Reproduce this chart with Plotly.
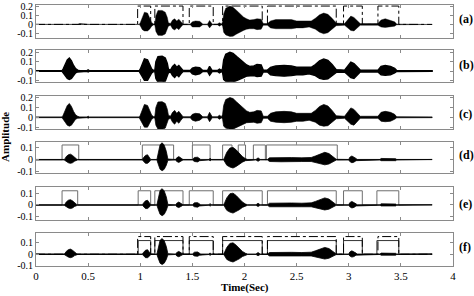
import plotly.graph_objects as go

# ---------------- data ----------------
# time grid (s) for noisy waveform envelopes, panels (a)-(c)
t_noisy = [0.00, 0.25, 0.26, 0.28, 0.30, 0.32, 0.34, 0.36, 0.38, 0.40, 0.42,
           0.49, 0.50, 0.51, 0.60, 0.61, 0.62,
           0.99, 1.00, 1.02, 1.04, 1.07, 1.09, 1.11, 1.13,
           1.14, 1.15, 1.17, 1.21, 1.24, 1.26, 1.27,
           1.29, 1.31, 1.33, 1.35, 1.37, 1.39, 1.41,
           1.48, 1.50, 1.53, 1.57, 1.60,
           1.645, 1.665, 1.69, 1.74, 1.76, 1.78,
           1.79, 1.80, 1.82, 1.86, 1.89, 1.925, 1.96, 1.99, 2.02, 2.05, 2.09, 2.12, 2.16, 2.18,
           2.22, 2.25, 2.30, 2.38, 2.45, 2.50, 2.56, 2.62,
           2.64, 2.68, 2.72, 2.76, 2.80, 2.84, 2.88,
           2.96, 2.99, 3.02, 3.05, 3.08, 3.11,
           3.28, 3.31, 3.35, 3.40, 3.44, 3.46, 3.80]
up_a = [0.001, 0.001, 0.001, 0.001, 0.001, 0.001, 0.001, 0.001, 0.001, 0.001, 0.010,
        0.001, 0.001, 0.001, 0.001, 0.001, 0.001,
        0.001, 0.020, 0.080, 0.140, 0.130, 0.070, 0.020, 0.004,
        0.010, 0.100, 0.160, 0.160, 0.140, 0.080, 0.020,
        0.010, 0.050, 0.065, 0.040, 0.060, 0.030, 0.004,
        0.004, 0.030, 0.040, 0.035, 0.004,
        0.004, 0.045, 0.004, 0.004, 0.020, 0.004,
        0.030, 0.120, 0.185, 0.210, 0.195, 0.160, 0.120, 0.085, 0.065, 0.050, 0.055, 0.065, 0.060, 0.010,
        0.010, 0.040, 0.055, 0.055, 0.055, 0.040, 0.040, 0.035,
        0.040, 0.070, 0.110, 0.130, 0.115, 0.070, 0.015,
        0.010, 0.050, 0.095, 0.080, 0.040, 0.010,
        0.010, 0.050, 0.065, 0.050, 0.030, 0.004, 0.001]
lo_a = [-0.001, -0.001, -0.001, -0.001, -0.001, -0.001, -0.001, -0.001, -0.001, -0.001, -0.008,
        -0.001, -0.001, -0.001, -0.001, -0.001, -0.001,
        -0.001, -0.015, -0.060, -0.075, -0.075, -0.055, -0.020, -0.004,
        -0.010, -0.080, -0.125, -0.127, -0.110, -0.060, -0.020,
        -0.010, -0.050, -0.065, -0.040, -0.060, -0.030, -0.004,
        -0.004, -0.030, -0.035, -0.030, -0.004,
        -0.004, -0.040, -0.004, -0.004, -0.020, -0.004,
        -0.020, -0.090, -0.120, -0.138, -0.135, -0.110, -0.085, -0.070, -0.055, -0.050, -0.050, -0.060, -0.055, -0.010,
        -0.010, -0.040, -0.050, -0.050, -0.050, -0.040, -0.040, -0.030,
        -0.035, -0.055, -0.090, -0.108, -0.095, -0.055, -0.015,
        -0.010, -0.040, -0.070, -0.075, -0.040, -0.010,
        -0.010, -0.030, -0.035, -0.030, -0.020, -0.004, -0.001]
up_bc = [0.004, 0.004, 0.020, 0.070, 0.120, 0.140, 0.110, 0.060, 0.025, 0.010, 0.004,
         0.004, 0.012, 0.004, 0.004, 0.010, 0.004,
         0.004, 0.020, 0.080, 0.130, 0.120, 0.070, 0.020, 0.005,
         0.010, 0.100, 0.155, 0.158, 0.140, 0.080, 0.020,
         0.010, 0.050, 0.070, 0.040, 0.060, 0.030, 0.005,
         0.005, 0.030, 0.040, 0.035, 0.005,
         0.005, 0.050, 0.005, 0.005, 0.020, 0.005,
         0.030, 0.120, 0.180, 0.200, 0.190, 0.155, 0.120, 0.088, 0.065, 0.050, 0.055, 0.070, 0.065, 0.010,
         0.010, 0.040, 0.055, 0.060, 0.055, 0.040, 0.040, 0.035,
         0.040, 0.070, 0.110, 0.130, 0.115, 0.070, 0.015,
         0.010, 0.050, 0.095, 0.080, 0.040, 0.010,
         0.010, 0.050, 0.060, 0.050, 0.030, 0.005, 0.004]
lo_bc = [-0.004, -0.004, -0.015, -0.050, -0.080, -0.090, -0.080, -0.050, -0.020, -0.010, -0.004,
         -0.004, -0.010, -0.004, -0.004, -0.008, -0.004,
         -0.004, -0.015, -0.060, -0.100, -0.100, -0.060, -0.020, -0.005,
         -0.010, -0.080, -0.120, -0.123, -0.110, -0.060, -0.020,
         -0.010, -0.050, -0.070, -0.040, -0.060, -0.030, -0.005,
         -0.005, -0.030, -0.040, -0.030, -0.005,
         -0.005, -0.045, -0.005, -0.005, -0.020, -0.005,
         -0.020, -0.090, -0.110, -0.120, -0.120, -0.105, -0.085, -0.070, -0.055, -0.050, -0.050, -0.060, -0.055, -0.010,
         -0.010, -0.040, -0.050, -0.055, -0.050, -0.040, -0.040, -0.030,
         -0.035, -0.050, -0.080, -0.090, -0.085, -0.050, -0.015,
         -0.010, -0.040, -0.070, -0.080, -0.040, -0.010,
         -0.010, -0.040, -0.045, -0.040, -0.020, -0.005, -0.004]

# time grid (s) for enhanced waveform envelope, panels (d)-(f)
t_enh = [0.00, 0.27, 0.28, 0.29, 0.31, 0.33, 0.35, 0.37, 0.39, 0.40,
         0.49, 0.50, 0.51,
         1.02, 1.03, 1.05, 1.07, 1.09, 1.10,
         1.16, 1.17, 1.175, 1.19, 1.21, 1.23, 1.25, 1.26, 1.265,
         1.34, 1.35, 1.37, 1.39, 1.41,
         1.50, 1.52, 1.55, 1.57, 1.58,
         1.66, 1.67, 1.68,
         1.80, 1.81, 1.83, 1.86, 1.89, 1.92, 1.95, 1.98, 2.01, 2.03,
         2.11, 2.13, 2.15,
         2.22, 2.24, 2.35, 2.45, 2.55,
         2.64, 2.68, 2.72, 2.77, 2.81, 2.85, 2.88,
         3.00, 3.01, 3.03, 3.05, 3.07, 3.08,
         3.30, 3.31, 3.38, 3.45, 3.46, 3.80]
up_enh = [0.002, 0.002, 0.010, 0.025, 0.040, 0.045, 0.035, 0.018, 0.005, 0.002,
          0.002, 0.006, 0.002,
          0.002, 0.015, 0.035, 0.040, 0.020, 0.002,
          0.002, 0.040, 0.075, 0.122, 0.138, 0.118, 0.068, 0.030, 0.005,
          0.002, 0.015, 0.025, 0.015, 0.002,
          0.002, 0.018, 0.020, 0.008, 0.002,
          0.002, 0.012, 0.002,
          0.002, 0.020, 0.060, 0.095, 0.100, 0.080, 0.050, 0.025, 0.008, 0.002,
          0.002, 0.015, 0.002,
          0.002, 0.015, 0.018, 0.017, 0.015,
          0.018, 0.030, 0.045, 0.060, 0.050, 0.025, 0.003,
          0.002, 0.020, 0.030, 0.022, 0.010, 0.002,
          0.002, 0.010, 0.012, 0.008, 0.002, 0.002]
lo_enh = [-0.002, -0.002, -0.008, -0.015, -0.025, -0.030, -0.025, -0.012, -0.004, -0.002,
          -0.002, -0.005, -0.002,
          -0.002, -0.012, -0.030, -0.030, -0.015, -0.002,
          -0.002, -0.030, -0.050, -0.078, -0.090, -0.078, -0.045, -0.020, -0.005,
          -0.002, -0.015, -0.022, -0.012, -0.002,
          -0.002, -0.015, -0.018, -0.008, -0.002,
          -0.002, -0.010, -0.002,
          -0.002, -0.015, -0.045, -0.060, -0.068, -0.055, -0.040, -0.020, -0.008, -0.002,
          -0.002, -0.013, -0.002,
          -0.002, -0.015, -0.017, -0.017, -0.015,
          -0.015, -0.025, -0.033, -0.042, -0.035, -0.018, -0.003,
          -0.002, -0.015, -0.025, -0.020, -0.008, -0.002,
          -0.002, -0.008, -0.010, -0.008, -0.002, -0.002]

t_end = 3.80

# voice-activity segments (start, end) in seconds and their heights
vad_a = [(0.975, 1.10), (1.14, 1.41), (1.47, 1.70), (1.79, 2.17), (2.22, 2.88), (2.95, 3.13), (3.28, 3.48)]
vad_d = [(0.25, 0.41), (1.02, 1.32), (1.50, 1.67), (1.79, 1.88), (1.94, 2.01), (2.085, 2.20), (2.21, 2.89)]
vad_e = [(0.25, 0.40), (0.98, 1.10), (1.14, 1.41), (1.47, 1.70), (1.79, 2.17), (2.22, 2.88), (2.95, 3.13), (3.27, 3.48)]
vad_f = [(0.98, 1.10), (1.14, 1.41), (1.47, 1.70), (1.79, 2.17), (2.22, 2.88), (2.95, 3.13), (3.27, 3.48)]
h_ref_a = 0.21
h_ref_f = 0.155
h_det = 0.12

panel_labels = ["(a)", "(b)", "(c)", "(d)", "(e)", "(f)"]
y_ranges = [[-0.15, 0.222], [-0.116, 0.222], [-0.12, 0.22], [-0.112, 0.145], [-0.124, 0.15], [-0.103, 0.182]]
y_ticks_big = [0.2, 0.1, 0, -0.1]
y_ticks_small = [0.1, 0, -0.1]
x_ticks = [0, 0.5, 1, 1.5, 2, 2.5, 3, 3.5, 4]
x_ticktext = ["0", "0.5", "1", "1.5", "2", "2.5", "3", "3.5", "4"]

# ---------------- layout geometry (pixels) ----------------
W, H = 474, 296
ML, MR, MT, MB = 36, 21, 1, 30
PH = H - MT - MB
panel_px = [(1, 34), (47, 79), (93, 127), (140, 172), (186, 219), (233, 266)]
label_px = [15, 62, 112, 153, 203, 247]

FONT = "Liberation Serif, Times New Roman, serif"
FRAME = "#8a8a8a"


def paper_y(py):
    return (H - MB - py) / PH


def step_xy(segs, h):
    xs, ys = [0.0], [0.0]
    for s, e in segs:
        xs += [s, s, e, e]
        ys += [0, h, h, 0]
    xs.append(t_end)
    ys.append(0)
    return xs, ys


fig = go.Figure()


def add_wave(i, t, up, lo, lw):
    assert len(t) == len(up) == len(lo)
    fig.add_trace(go.Scatter(
        x=list(t) + list(t[::-1]), y=list(up) + list(lo[::-1]),
        mode="lines", fill="toself", fillcolor="black",
        line=dict(color="black", width=lw),
        xaxis="x" if i == 1 else f"x{i}", yaxis="y" if i == 1 else f"y{i}",
        showlegend=False, hoverinfo="skip"))


def add_vad(i, segs, h, color, dash, lw=1):
    xs, ys = step_xy(segs, h)
    fig.add_trace(go.Scatter(
        x=xs, y=ys, mode="lines", line=dict(color=color, width=lw, dash=dash),
        xaxis="x" if i == 1 else f"x{i}", yaxis="y" if i == 1 else f"y{i}",
        showlegend=False, hoverinfo="skip"))


# (a)
add_vad(1, vad_a, h_ref_a, "black", "dashdot")
add_wave(1, t_noisy, up_a, lo_a, 0.4)
# (b)
add_wave(2, t_noisy, up_bc, lo_bc, 1.4)
# (c)
add_wave(3, t_noisy, up_bc, lo_bc, 0.7)
# (d)
add_vad(4, vad_d, h_det, "#6e6e6e", "solid")
add_wave(4, t_enh, up_enh, lo_enh, 0.8)
# (e)
add_vad(5, vad_e, h_det, "#6e6e6e", "solid")
add_wave(5, t_enh, up_enh, lo_enh, 0.8)
# (f)
add_vad(6, vad_f, h_det, "#333333", "solid")
add_vad(6, vad_a, h_ref_f, "black", "dashdot")
add_wave(6, t_enh, up_enh, lo_enh, 0.8)

layout = dict(
    width=W, height=H,
    margin=dict(l=ML, r=MR, t=MT, b=MB, pad=0),
    paper_bgcolor="white", plot_bgcolor="white",
    font=dict(family=FONT, size=10, color="black"),
    showlegend=False,
)

for i in range(1, 7):
    top, bot = panel_px[i - 1]
    xk = "xaxis" if i == 1 else f"xaxis{i}"
    yk = "yaxis" if i == 1 else f"yaxis{i}"
    xa = "x" if i == 1 else f"x{i}"
    ya = "y" if i == 1 else f"y{i}"
    layout[xk] = dict(
        domain=[0, 1], anchor=ya, range=[0, 4],
        tickmode="array", tickvals=x_ticks, ticktext=x_ticktext,
        showticklabels=(i == 6), ticks="inside", ticklen=3, tickcolor=FRAME,
        showline=True, linecolor=FRAME, linewidth=1, mirror="ticks",
        showgrid=False, zeroline=False,
        tickfont=dict(family=FONT, size=11, color="black"),
    )
    yt = y_ticks_big if i <= 3 else y_ticks_small
    layout[yk] = dict(
        domain=[paper_y(bot), paper_y(top)], anchor=xa, range=y_ranges[i - 1],
        tickmode="array", tickvals=yt, ticktext=[("%g" % v) for v in yt],
        ticks="inside", ticklen=3, tickcolor=FRAME,
        showline=True, linecolor=FRAME, linewidth=1, mirror="ticks",
        showgrid=False, zeroline=False,
        tickfont=dict(family=FONT, size=10, color="black"),
    )

annotations = []
for lab, py in zip(panel_labels, label_px):
    annotations.append(dict(
        text=f"<b>{lab}</b>", xref="paper", yref="paper",
        x=(457 - ML) / (W - ML - MR), y=paper_y(py), xanchor="left", yanchor="middle",
        showarrow=False, font=dict(family=FONT, size=12, color="black")))
annotations.append(dict(
    text="<b>Time(Sec)</b>", xref="paper", yref="paper",
    x=(245 - ML) / (W - ML - MR), y=paper_y(288), xanchor="center", yanchor="middle",
    showarrow=False, font=dict(family=FONT, size=11, color="black")))
annotations.append(dict(
    text="<b>Amplitude</b>", xref="paper", yref="paper", textangle=-90,
    x=(5 - ML) / (W - ML - MR), y=paper_y(135), xanchor="center", yanchor="middle",
    showarrow=False, font=dict(family=FONT, size=11, color="black")))
layout["annotations"] = annotations

fig.update_layout(**layout)
fig.write_html("out.html")
